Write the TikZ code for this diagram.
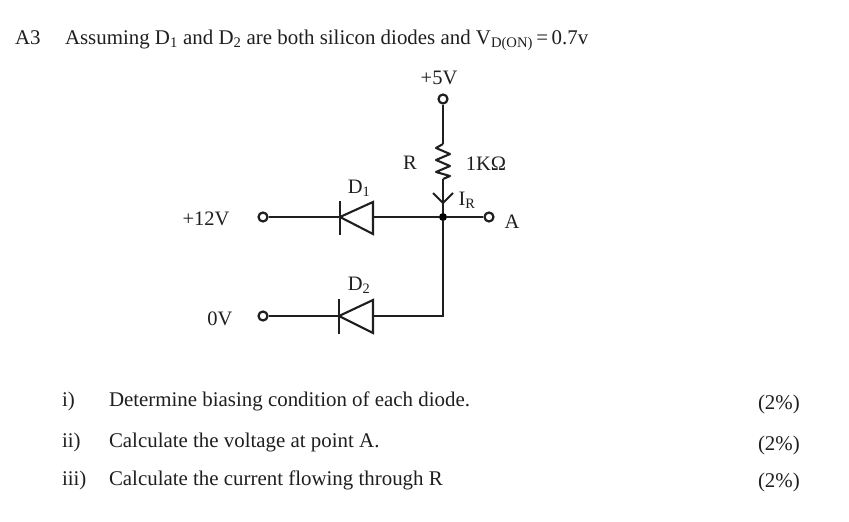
\documentclass[tikz,border=0pt]{standalone}
\usepackage{fontspec}
\setmainfont{Liberation Serif}
\newcommand{\txtsize}{\fontsize{20.9}{24}\selectfont}
\newcommand{\lblsize}{\fontsize{20.5}{24}\selectfont}
\begin{document}
\begin{tikzpicture}[x=1pt,y=-1pt,
  txt/.style={anchor=base west,inner sep=0pt,outer sep=0pt,text=black!88,font=\txtsize},
  lbl/.style={anchor=base,inner sep=0pt,outer sep=0pt,text=black!88,font=\lblsize},
  terminal/.style={circle,draw=black!88,line width=2.2pt,fill=white,minimum size=9pt,inner sep=0pt},
  junction/.style={circle,fill=black,minimum size=8pt,inner sep=0pt},
  wire/.style={draw=black!88,line width=2.1pt,line join=miter}]
\useasboundingbox (0,0) rectangle (849,522);
\fill[white] (0,0) rectangle (849,522);
% heading
\node[txt] (qnum) at (15,44) {A3};
\node[txt] (qtext) at (65,44) {Assuming D\textsubscript{1} and D\textsubscript{2} are both silicon diodes and V\textsubscript{D(ON)}\,=\,0.7v};
% circuit points
\node[terminal] (t5) at (443,99) {};
\node[terminal] (t12) at (263,217) {};
\node[terminal] (t0) at (263,316) {};
\node[terminal] (tA) at (489,217) {};
\node[junction] (j) at (443,217) {};
\coordinate (rtop) at (443,144);
\coordinate (rbot) at (443,179);
\coordinate (d1a) at (373,217);
\coordinate (d1k) at (340,217);
\coordinate (d2a) at (373,316);
\coordinate (d2k) at (339,316);
\coordinate (corner) at (443,316);
\coordinate (irtip) at (443,203);
% wires
\draw[wire] (t5) -- (rtop);
\draw[wire,line join=round] (rtop) -- (436,148) -- (450,154) -- (436,160) -- (450,166) -- (436,172) -- (450,176) -- (rbot);
\draw[wire] (rbot) -- (j);
\draw[wire] (433,193) -- (irtip) -- (453,193);
\draw[wire] (t12) -- (d1k);
\draw[wire] (d1a) -- (j);
\draw[wire] (j) -- (tA);
\draw[wire] (j) -- (corner) -- (d2a);
\draw[wire] (t0) -- (d2k);
% diodes
\draw[wire] (340,201) -- (340,234.5);
\draw[wire] (d1k) -- (373,202) -- (373,234) -- cycle;
\draw[wire] (339,299) -- (339,333.5);
\draw[wire] (d2k) -- (373,300) -- (373,333) -- cycle;
% circuit labels
\node[lbl] (l5) at (439,84) {+5V};
\node[lbl] (lr) at (410,169) {R};
\node[lbl] (lk) at (486,170) {1KΩ};
\node[lbl] (ld1) at (359,193) {D\textsubscript{1}};
\node[lbl] (lir) at (467,205) {I\textsubscript{R}};
\node[lbl] (l12) at (206,225) {+12V};
\node[lbl] (la) at (512,228) {A};
\node[lbl] (ld2) at (359,290) {D\textsubscript{2}};
\node[lbl] (l0) at (220,325) {0V};
% questions
\node[txt] (i1) at (62,406) {i)};
\node[txt] (q1) at (109,406) {Determine biasing condition of each diode.};
\node[txt] (m1) at (758,409) {(2\%)};
\node[txt] (i2) at (62,447) {ii)};
\node[txt] (q2) at (109,447) {Calculate the voltage at point A.};
\node[txt] (m2) at (758,450) {(2\%)};
\node[txt] (i3) at (62,485) {iii)};
\node[txt] (q3) at (109,485) {Calculate the current flowing through R};
\node[txt] (m3) at (758,487) {(2\%)};
\end{tikzpicture}
\end{document}
